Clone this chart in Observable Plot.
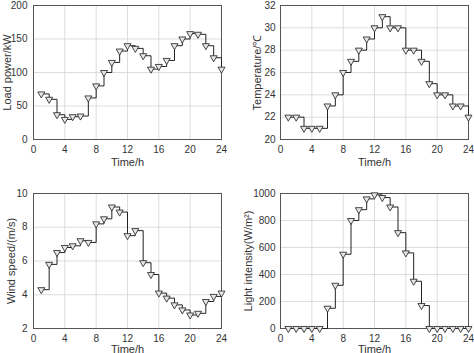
<!DOCTYPE html>
<html>
<head>
<meta charset="utf-8">
<script src="https://cdn.jsdelivr.net/npm/d3@7"></script>
<script src="https://cdn.jsdelivr.net/npm/@observablehq/plot@0.6"></script>
<style>
  html, body { margin: 0; padding: 0; background: #fff; }
  #wrap { position: relative; width: 474px; height: 353px; overflow: hidden; }
  .panel { position: absolute; }
  svg { font-family: "Liberation Sans", Arial, sans-serif; }
</style>
</head>
<body>
<div id="wrap"></div>
<script>
const hours = d3.range(1, 25);
const loadPower = [68, 60, 37, 30, 34, 35, 62, 80, 100, 115, 132, 140, 136, 125, 105, 109, 118, 140, 150, 158, 157, 140, 122, 105];
const temperature = [22, 22, 21, 21, 21, 23, 24, 26, 27, 28, 29, 30, 31, 30, 30, 28, 28, 27, 25, 24, 24, 23, 23, 22];
const windSpeed = [4.3, 5.8, 6.5, 6.8, 6.9, 7.2, 7.1, 8.2, 8.5, 9.2, 8.9, 7.5, 7.8, 5.9, 5.2, 4.1, 3.8, 3.4, 3.1, 2.8, 2.9, 3.6, 3.9, 4.1];
const lightIntensity = [0, 0, 0, 0, 0, 150, 320, 550, 800, 880, 960, 990, 970, 900, 710, 560, 350, 170, 0, 0, 0, 0, 0, 0];
const xTicks = [0, 4, 8, 12, 16, 20, 24];

const panels = [
  {values: loadPower, label: "Load power/kW", domain: [0, 200], ticks: [0, 50, 100, 150, 200], left: 0, top: 0, ml: 33, mr: 16, mt: 5, mb: 37, h: 176, lo: 30, tp: 6, xo: 26},
  {values: temperature, label: "Temperature/℃", domain: [20, 32], ticks: [20, 22, 24, 26, 28, 30, 32], left: 237, top: 0, ml: 43, mr: 6, mt: 5, mb: 37, h: 176, lo: 27, tp: 5, xo: 26},
  {values: windSpeed, label: "Wind speed/(m/s)", domain: [2, 10], ticks: [2, 4, 6, 8, 10], left: 0, top: 176, ml: 33, mr: 16, mt: 17, mb: 25, h: 177, lo: 26, tp: 6, xo: 24},
  {values: lightIntensity, label: "Light intensity(W/m²)", domain: [0, 1000], ticks: [0, 200, 400, 600, 800, 1000], left: 237, top: 176, ml: 43, mr: 6, mt: 17, mb: 25, h: 177, lo: 36, tp: 5, xo: 24}
];

const wrap = document.getElementById("wrap");
for (const p of panels) {
  const data = hours.map((h, i) => ({x: h, y: p.values[i]}));
  const chart = Plot.plot({
    width: 237,
    height: p.h,
    marginLeft: p.ml,
    marginRight: p.mr,
    marginTop: p.mt,
    marginBottom: p.mb,
    style: {fontFamily: "Liberation Sans, Arial, sans-serif", fontSize: "10px", color: "#333", background: "#fff"},
    x: {domain: [0, 24]},
    y: {domain: p.domain},
    marks: [
      Plot.gridX(xTicks, {stroke: "#d4d4d4", strokeOpacity: 1, strokeWidth: 0.8}),
      Plot.gridY(p.ticks, {stroke: "#d4d4d4", strokeOpacity: 1, strokeWidth: 0.8}),
      Plot.axisX(xTicks, {tickSize: 0, tickPadding: 6, fontSize: 10, tickFormat: d => String(d), label: null, fill: "#333"}),
      Plot.axisY(p.ticks, {tickSize: 0, tickPadding: p.tp, fontSize: 10, tickFormat: d => String(d), label: null, fill: "#333"}),
      Plot.axisX({ticks: [], tickSize: 0, label: "Time/h", labelAnchor: "center", labelArrow: "none", labelOffset: p.xo, fontSize: 11, fill: "#333"}),
      Plot.axisY({ticks: [], tickSize: 0, label: p.label, labelAnchor: "center", labelArrow: "none", labelOffset: p.lo, fontSize: 11, fill: "#333"}),
      Plot.frame({stroke: "#555", strokeWidth: 1}),
      Plot.line(data, {x: "x", y: "y", curve: "step-after", stroke: "#222", strokeWidth: 1}),
      Plot.dot(data, {x: "x", y: "y", symbol: "triangle", rotate: 180, r: 2.6, fill: "#e6e6e6", stroke: "#333", strokeWidth: 0.9})
    ]
  });
  const div = document.createElement("div");
  div.className = "panel";
  div.style.left = p.left + "px";
  div.style.top = p.top + "px";
  div.appendChild(chart);
  wrap.appendChild(div);
}
</script>
</body>
</html>
